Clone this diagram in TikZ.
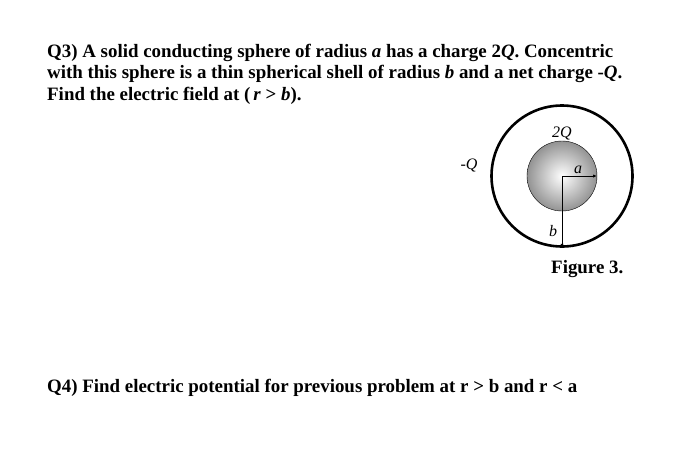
\documentclass[tikz,border=0pt]{standalone}
\usepackage{fontspec}
\setmainfont{Liberation Serif}
\begin{document}
\begin{tikzpicture}[x=1pt,y=-1pt,
  q/.style={anchor=base west,font=\fontsize{18.9}{22}\selectfont\bfseries,inner sep=0},
  lbl/.style={font=\fontsize{16}{18}\selectfont\itshape,inner sep=0}]
\useasboundingbox (0,0) rectangle (695,453);
\node[q] (l1) at (47,57) {Q3) A solid conducting sphere of radius \textit{a} has a charge 2\textit{Q}. Concentric};
\node[q] (l2) at (47,78) {with this sphere is a thin spherical shell of radius \textit{b} and a net charge -\textit{Q}.};
\node[q] (l3) at (47,100) {Find the electric field at (\,\textit{r} > \textit{b}).};
\node[circle,draw,line width=2.6pt,minimum size=141pt,inner sep=0] (shell) at (562,176) {};
\node[circle,draw,inner color=white,outer color=gray!85,minimum size=70pt,inner sep=0] (sph) at (562,176) {};
\coordinate (c) at (562,176);
\draw[-latex] (c) -- (sph.east);
\draw[-latex] (c) -- (shell.south);
\node[lbl] (tq) at (562,133) {2\textit{Q}};
\node[lbl] (mq) at (469,165) {-\textit{Q}};
\node[lbl] (ta) at (578,170) {\textit{a}};
\node[lbl] (tb) at (553,231) {\textit{b}};
\node[q] (fig) at (551,273) {Figure 3.};
\node[q] (l4) at (47,392) {Q4) Find electric potential for previous problem at r > b and r < a};
\end{tikzpicture}
\end{document}
